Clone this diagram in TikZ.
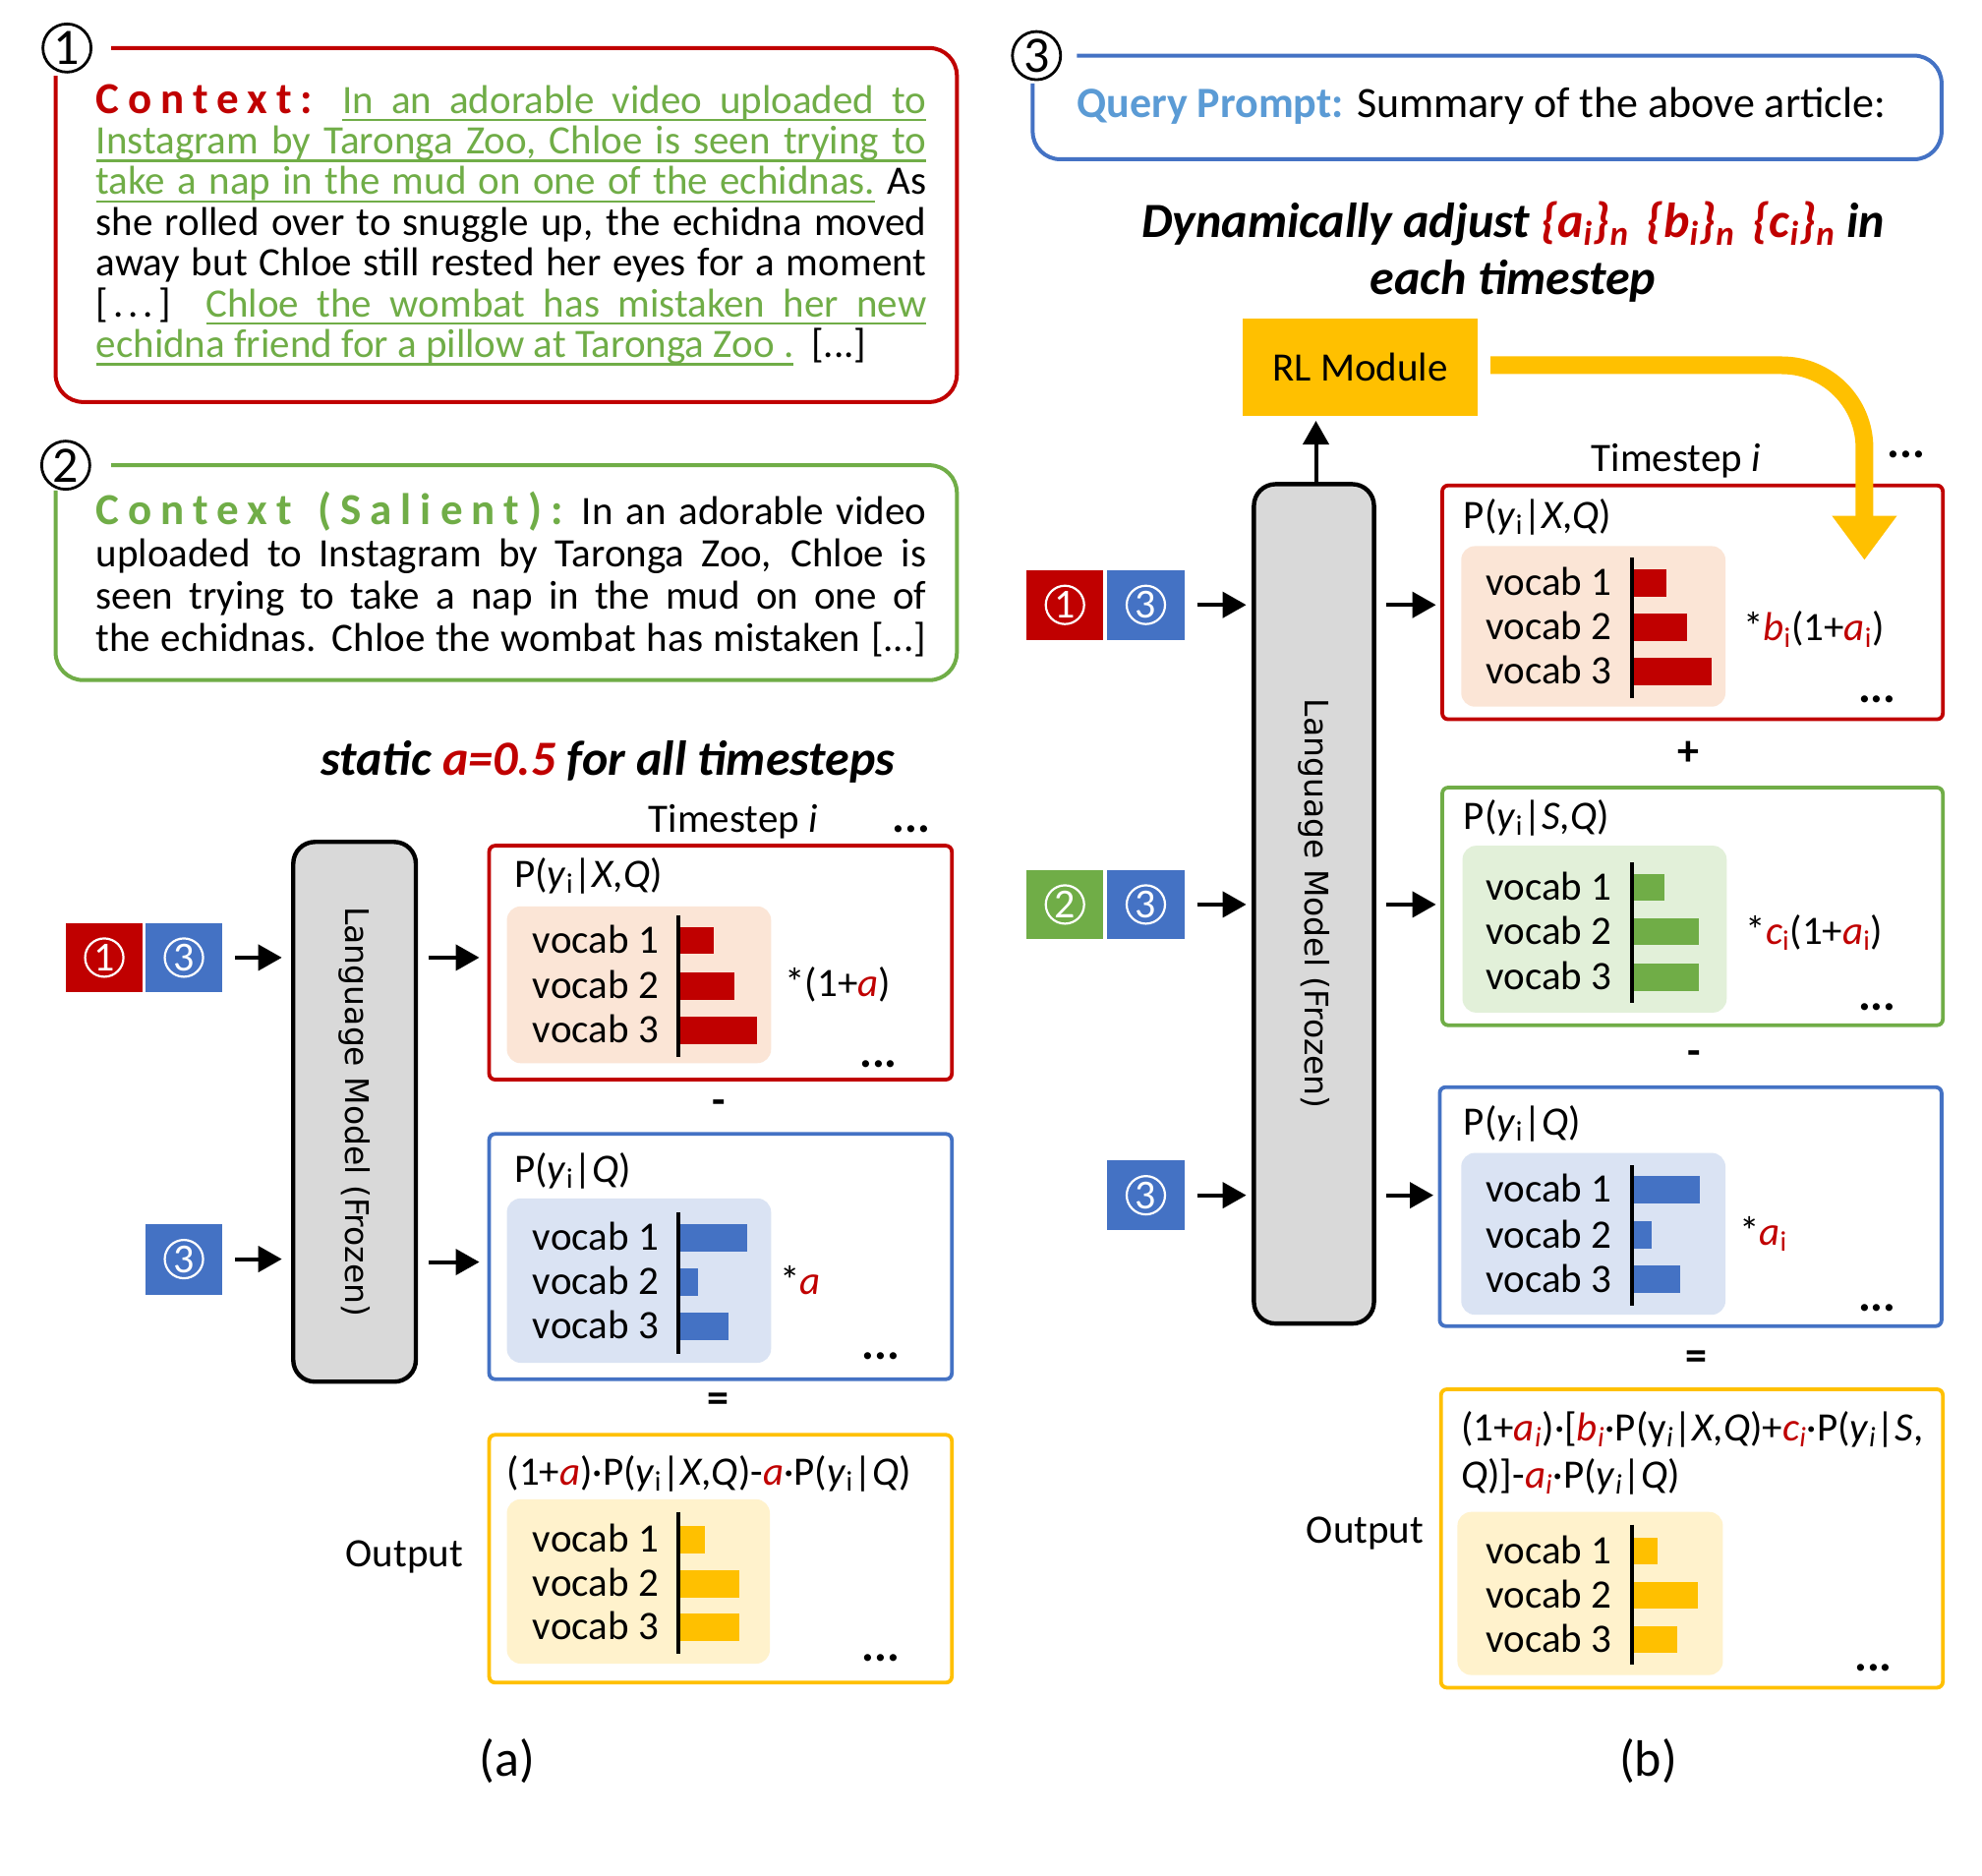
\documentclass[tikz,border=0pt]{standalone}
\usepackage{fontspec}
\setmainfont{Carlito}
\newfontfamily\djv{DejaVu Sans}
\usetikzlibrary{fit,arrows.meta}
\definecolor{cred}{HTML}{C00000}
\definecolor{cblue}{HTML}{4472C4}
\definecolor{cgreen}{HTML}{70AD47}
\definecolor{cyel}{HTML}{FFC000}
\definecolor{qblue}{HTML}{5B9BD5}
\definecolor{lred}{HTML}{FBE5D6}
\definecolor{lgreen}{HTML}{E2F0D9}
\definecolor{lblue}{HTML}{DAE3F3}
\definecolor{lyel}{HTML}{FFF2CC}
\definecolor{lgray}{HTML}{D9D9D9}
\newcommand\fsA{\fontsize{20.5pt}{24pt}\selectfont}
\newcommand\rd[1]{\textcolor{cred}{#1}}
\makeatletter
\newcommand\uw[1]{\setbox0\hbox{#1}\rlap{\vrule width\wd0 height -3.0pt depth 4.2pt}\box0}
\newcommand\us{\leaders\vrule height -3.0pt depth 4.2pt\hskip\fontdimen2\font plus\fontdimen3\font minus\fontdimen4\font\relax}
\def\gu@a#1 #2\@nil{\uw{#1}\ifx\relax#2\relax\else\us\gu@a#2\@nil\fi}
\newcommand\gu[1]{\textcolor{cgreen}{\gu@a#1 \@nil}}
\makeatother
\newcommand\yi{\textit{y}\textsubscript{i}}
\newcommand\yii{\textit{y}\textsubscript{\textit{i}}}
\newcommand\ctxlab[2]{{\fontsize{22.5pt}{24pt}\selectfont\bfseries\color{#1}\addfontfeature{LetterSpace=20}#2}}
\newlength\cw \setlength\cw{422.3pt}
\newcommand\jl[1]{\makebox[\cw][s]{#1}}
\newcommand\hb[4]{\fill[#1] (#2,#4-10.8) rectangle (#3,#4+10.8);}
\begin{document}
\begin{tikzpicture}[x=0.6428pt,y=-0.6428pt,
  every node/.style={inner sep=0pt,outer sep=0pt},
  pbox/.style={draw=#1, line width=1.9pt, rounded corners=3pt, inner sep=0pt},
  panel/.style={fill=#1, rounded corners=7pt, inner sep=0pt},
  lmbox/.style={draw=black, fill=lgray, line width=2.2pt, rounded corners=11pt, inner sep=0pt},
  insq/.style={fill=#1, inner sep=0pt},
  wnum/.style={circle, draw=white, line width=1.1pt, text=white, minimum size=19.5pt, inner sep=0pt, font=\fontsize{21pt}{22pt}\selectfont},
  bnum/.style={circle, draw=black, line width=1.4pt, minimum size=24.5pt, inner sep=0pt, font=\fontsize{26pt}{27pt}\selectfont},
  arr/.style={line width=2pt, -{Triangle[length=12pt,width=13pt]}},
  lbl/.style={font=\fsA, anchor=base west},
  voc/.style={font=\fsA, anchor=base east},
  dts/.style={font=\fontsize{24pt}{26pt}\selectfont\bfseries, anchor=base},
  op/.style={font=\fontsize{22pt}{24pt}\selectfont\bfseries},
  ctx/.style={font=\fsA, anchor=base west},
  lmtext/.style={rotate=-90, font=\djv\fontsize{16.5pt}{18pt}\selectfont},
  ttl/.style={font=\fontsize{25pt}{28pt}\selectfont\bfseries\itshape, anchor=base}
]
\fill[white] (0,0) rectangle (1568,1484);
\useasboundingbox (0,0) rectangle (1568,1484);

% ---------- Box 1: context ----------
\node[bnum] (n1) at (53,38) {1};
\draw[cred, line width=2pt, rounded corners=14pt] (88,38) -- (757,38) -- (757,318) -- (44,318) -- (44,60);
\node[ctx] (c1a) at (76,89.5) {\jl{\ctxlab{cred}{Context:} \gu{In an adorable video uploaded to}}};
\node[ctx] (c1b) at (76,121.7) {\jl{\gu{Instagram by Taronga Zoo, Chloe is seen trying to}}};
\node[ctx] (c1c) at (76,153.9) {\jl{\gu{take a nap in the mud on one of the echidnas.} As}};
\node[ctx] (c1d) at (76,186.1) {\jl{she rolled over to snuggle up, the echidna moved}};
\node[ctx] (c1e) at (76,218.3) {\jl{away but Chloe still rested her eyes for a moment}};
\node[ctx] (c1f) at (76,250.5) {\jl{[\hspace{2.5pt}.\hspace{2.5pt}.\hspace{2.5pt}.\hspace{2.5pt}]\hspace{-2pt} \gu{Chloe the wombat has mistaken her new}}};
\node[ctx] (c1g) at (76,282.7) {\gu{echidna friend for a pillow at Taronga Zoo .}\hspace{9pt}[...]};

% ---------- Box 2: salient context ----------
\node[bnum] (n2) at (52,368) {2};
\draw[cgreen, line width=2pt, rounded corners=14pt] (88,368) -- (757,368) -- (757,538) -- (44,538) -- (44,388);
\node[ctx] (c2a) at (76,415) {\jl{\ctxlab{cgreen}{Context (Salient):} In an adorable video}};
\node[ctx] (c2b) at (76,448) {\jl{uploaded to Instagram by Taronga Zoo, Chloe is}};
\node[ctx] (c2c) at (76,481.5) {\jl{seen trying to take a nap in the mud on one of}};
\node[ctx] (c2d) at (76,515) {\jl{the echidnas. Chloe the wombat has mistaken [...]}};

% ---------- Box 3: query prompt ----------
\node[bnum] (n3) at (820,44) {3};
\draw[cblue, line width=2pt, rounded corners=14pt] (852,44) -- (1536,44) -- (1536,126) -- (817,126) -- (817,66);
\node[font=\fontsize{22pt}{24pt}\selectfont, anchor=base west] (qp) at (852,93) {\textbf{\textcolor{qblue}{Query Prompt:}} Summary of the above article:};

% ---------- Left panel (a) ----------
\node[ttl] (tl) at (481,613) {static \rd{a=0.5} for all timesteps};
\node[font=\fsA, anchor=base] (tsl) at (580,658) {Timestep \textit{i}};
\node[dts] (tsld) at (721,658) {...};

\node[lmbox, fit={(232,666) (329,1093)}] (lmL) {};
\node[lmtext] (lmLt) at (lmL.center) {Language Model (Frozen)};

\node[insq=cred, fit={(52,730) (113,785)}] (in1a) {};
\node[wnum] (in1an) at (in1a.center) {1};
\node[insq=cblue, fit={(115,730) (176,785)}] (in1b) {};
\node[wnum] (in1bn) at (in1b.center) {3};
\node[insq=cblue, fit={(115,968) (176,1024)}] (in3) {};
\node[wnum] (in3n) at (in3.center) {3};

% L1
\node[pbox=cred, fit={(387,669) (753,854)}] (L1) {};
\node[lbl] (L1l) at (407,702) {P(\yi|\textit{X},\textit{Q})};
\node[panel=lred, fit={(401,717) (610,841)}] (L1p) {};
\node[voc] (L1v1) at (521,754) {vocab 1};
\node[voc] (L1v2) at (521,790) {vocab 2};
\node[voc] (L1v3) at (521,825) {vocab 3};
\hb{cred}{537}{565}{744}
\hb{cred}{537}{581}{780}
\hb{cred}{537}{599}{815}
\draw[line width=2pt] (537,724) -- (537,836);
\node[lbl] (L1m) at (621,788) {*(1+\rd{\textit{a}})};
\node[dts] (L1d) at (695,844) {...};
\node[op] (mn1) at (569,876) {-};

% L2
\node[pbox=cblue, fit={(387,897) (753,1091)}] (L2) {};
\node[lbl] (L2l) at (407,935) {P(\yi|\textit{Q})};
\node[panel=lblue, fit={(401,948) (610,1078)}] (L2p) {};
\node[voc] (L2v1) at (521,989) {vocab 1};
\node[voc] (L2v2) at (521,1024) {vocab 2};
\node[voc] (L2v3) at (521,1059) {vocab 3};
\hb{cblue}{537}{591}{979}
\hb{cblue}{537}{552}{1014}
\hb{cblue}{537}{576}{1049}
\draw[line width=2pt] (537,959) -- (537,1071);
\node[lbl] (L2m) at (617,1024) {*\rd{\textit{a}}};
\node[dts] (L2d) at (697,1075) {...};
\node[op] (eq1) at (568,1110) {=};

% L3
\node[pbox=cyel, fit={(387,1135) (753,1331)}] (L3) {};
\node[lbl] (L3l) at (401,1175) {(1+\rd{\textit{a}})·P(\yi|\textit{X},\textit{Q})-\rd{\textit{a}}·P(\yi|\textit{Q})};
\node[panel=lyel, fit={(401,1186) (609,1316)}] (L3p) {};
\node[voc] (L3v1) at (521,1228) {vocab 1};
\node[voc] (L3v2) at (521,1263) {vocab 2};
\node[voc] (L3v3) at (521,1297) {vocab 3};
\hb{cyel}{537}{558}{1218}
\hb{cyel}{537}{585}{1253}
\hb{cyel}{537}{585}{1287}
\draw[line width=2pt] (537,1196) -- (537,1308);
\node[dts] (L3d) at (697,1314) {...};
\node[font=\fsA, anchor=base] (outL) at (320,1239) {Output};
\node[font=\fontsize{26pt}{28pt}\selectfont, anchor=base] (capa) at (401,1405) {(a)};

% left arrows
\draw[arr, shorten <=6.4pt, shorten >=5.8pt] (in1b.east) -- (in1b.east -| lmL.west);
\draw[arr, shorten <=6.4pt, shorten >=5.8pt] (in3.east) -- (in3.east -| lmL.west);
\draw[arr, shorten <=6.4pt, shorten >=5pt] (in1b.east -| lmL.east) -- (in1b.east -| L1.west);
\draw[arr, shorten <=6.4pt, shorten >=5pt] ([yshift=-1.5pt]in3.east -| lmL.east) -- ([yshift=-1.5pt]in3.east -| L2.west);

% ---------- Right panel (b) ----------
\node[ttl] (tr1) at (1197,188) {Dynamically adjust \rd{\{a\textsubscript{i}\}\textsubscript{n}}\hspace{9pt}\rd{\{b\textsubscript{i}\}\textsubscript{n}}\hspace{9pt}\rd{\{c\textsubscript{i}\}\textsubscript{n}} in};
\node[ttl] (tr2) at (1197,233) {each timestep};

\node[fit={(983,252) (1169,329)}, fill=cyel] (rl) {};
\node[font=\fsA] (rlt) at (rl.center) {RL Module};

\node[font=\fsA, anchor=base] (tsr) at (1326,373) {Timestep \textit{i}};
\node[dts] (tsrd) at (1508,362) {...};

\node[lmbox, fit={(992,383) (1087,1047)}] (lmR) {};
\node[lmtext] (lmRt) at (lmR.center) {Language Model (Frozen)};

\node[insq=cred, fit={(812,451) (873,506)}] (r1a) {};
\node[wnum] (r1an) at (r1a.center) {1};
\node[insq=cblue, fit={(876,451) (937,506)}] (r1b) {};
\node[wnum] (r1bn) at (r1b.center) {3};
\node[insq=cgreen, fit={(812,688) (873,743)}] (r2a) {};
\node[wnum] (r2an) at (r2a.center) {2};
\node[insq=cblue, fit={(876,688) (937,743)}] (r2b) {};
\node[wnum] (r2bn) at (r2b.center) {3};
\node[insq=cblue, fit={(876,918) (937,973)}] (r3) {};
\node[wnum] (r3n) at (r3.center) {3};

% R1
\node[pbox=cred, fit={(1141,384) (1537,569)}] (R1) {};
\node[lbl] (R1l) at (1158,418) {P(\yi|\textit{X},\textit{Q})};
\node[panel=lred, fit={(1156,432) (1365,559)}] (R1p) {};
\node[voc] (R1v1) at (1275,471) {vocab 1};
\node[voc] (R1v2) at (1275,506) {vocab 2};
\node[voc] (R1v3) at (1275,541) {vocab 3};
\hb{cred}{1291}{1318}{461}
\hb{cred}{1291}{1335}{496}
\hb{cred}{1291}{1354}{531}
\draw[line width=2pt] (1291,441) -- (1291,552);
\node[lbl] (R1m) at (1379,507) {*\rd{\textit{b}\textsubscript{i}}(1+\rd{\textit{a}\textsubscript{i}})};
\node[dts] (R1d) at (1485,556) {...};
\node[op] (pl) at (1336,596) {+};

% R2
\node[pbox=cgreen, fit={(1141,623) (1537,811)}] (R2) {};
\node[lbl] (R2l) at (1158,656) {P(\yi|\textit{S},\textit{Q})};
\node[panel=lgreen, fit={(1157,669) (1366,801)}] (R2p) {};
\node[voc] (R2v1) at (1275,712) {vocab 1};
\node[voc] (R2v2) at (1275,747) {vocab 2};
\node[voc] (R2v3) at (1275,783) {vocab 3};
\hb{cgreen}{1291}{1317}{702}
\hb{cgreen}{1291}{1344}{737}
\hb{cgreen}{1291}{1344}{773}
\draw[line width=2pt] (1291,682) -- (1291,793);
\node[lbl] (R2m) at (1381,747) {*\rd{\textit{c}\textsubscript{i}}(1+\rd{\textit{a}\textsubscript{i}})};
\node[dts] (R2d) at (1485,799) {...};
\node[op] (mn2) at (1340,837) {-};

% R3
\node[pbox=cblue, fit={(1139,860) (1536,1049)}] (R3) {};
\node[lbl] (R3l) at (1158,898) {P(\yi|\textit{Q})};
\node[panel=lblue, fit={(1156,912) (1365,1040)}] (R3p) {};
\node[voc] (R3v1) at (1275,951) {vocab 1};
\node[voc] (R3v2) at (1275,987) {vocab 2};
\node[voc] (R3v3) at (1275,1022) {vocab 3};
\hb{cblue}{1291}{1345}{941}
\hb{cblue}{1291}{1307}{977}
\hb{cblue}{1291}{1329}{1012}
\draw[line width=2pt] (1291,922) -- (1291,1033);
\node[lbl] (R3m) at (1376,985) {*\rd{\textit{a}\textsubscript{i}}};
\node[dts] (R3d) at (1485,1037) {...};
\node[op] (eq2) at (1342,1076) {=};

% R4
\node[pbox=cyel, fit={(1140,1099) (1537,1335)}] (R4) {};
\node[lbl] (R4l1) at (1156,1140) {(1+\rd{\textit{a}\textsubscript{\textit{i}}})·[\rd{\textit{b}\textsubscript{\textit{i}}}·P(y\textsubscript{\textit{i}}|\textit{X},\textit{Q})+\rd{\textit{c}\textsubscript{\textit{i}}}·P(\yii|\textit{S},};
\node[lbl] (R4l2) at (1156,1177) {\textit{Q})]-\rd{\textit{a}\textsubscript{\textit{i}}}·P(\yii|\textit{Q})};
\node[panel=lyel, fit={(1153,1196) (1363,1325)}] (R4p) {};
\node[voc] (R4v1) at (1275,1237) {vocab 1};
\node[voc] (R4v2) at (1275,1272) {vocab 2};
\node[voc] (R4v3) at (1275,1307) {vocab 3};
\hb{cyel}{1291}{1311}{1227}
\hb{cyel}{1291}{1343}{1262}
\hb{cyel}{1291}{1327}{1297}
\draw[line width=2pt] (1291,1206) -- (1291,1317);
\node[dts] (R4d) at (1482,1322) {...};
\node[font=\fsA, anchor=base] (outR) at (1080,1221) {Output};
\node[font=\fontsize{26pt}{28pt}\selectfont, anchor=base] (capb) at (1304,1405) {(b)};

% right arrows
\draw[arr, shorten <=6.4pt, shorten >=3.9pt] (r1b.east) -- (r1b.east -| lmR.west);
\draw[arr, shorten <=6.4pt, shorten >=3.9pt] (r2b.east) -- (r2b.east -| lmR.west);
\draw[arr, shorten <=6.4pt, shorten >=3.9pt] (r3.east) -- (r3.east -| lmR.west);
\draw[arr, shorten <=6.4pt, shorten >=3.2pt] (r1b.east -| lmR.east) -- (r1b.east -| R1.west);
\draw[arr, shorten <=6.4pt, shorten >=3.2pt] (r2b.east -| lmR.east) -- (r2b.east -| R2.west);
\draw[arr, shorten <=6.4pt, shorten >=3.2pt] (r3.east -| lmR.east) -- (r3.east -| R3.west);
\draw[arr, shorten >=2.5pt] ([xshift=1pt]lmR.north) -- ([xshift=1pt]lmR.north |- rl.south);

% yellow feedback arrow
\coordinate (ytip) at (1475,443);
\draw[cyel, line width=9pt, rounded corners=42pt, -{Triangle[length=22.5pt,width=31.5pt]}] ([xshift=6.5pt,yshift=1pt]rl.east) -| (ytip);
\end{tikzpicture}
\end{document}
